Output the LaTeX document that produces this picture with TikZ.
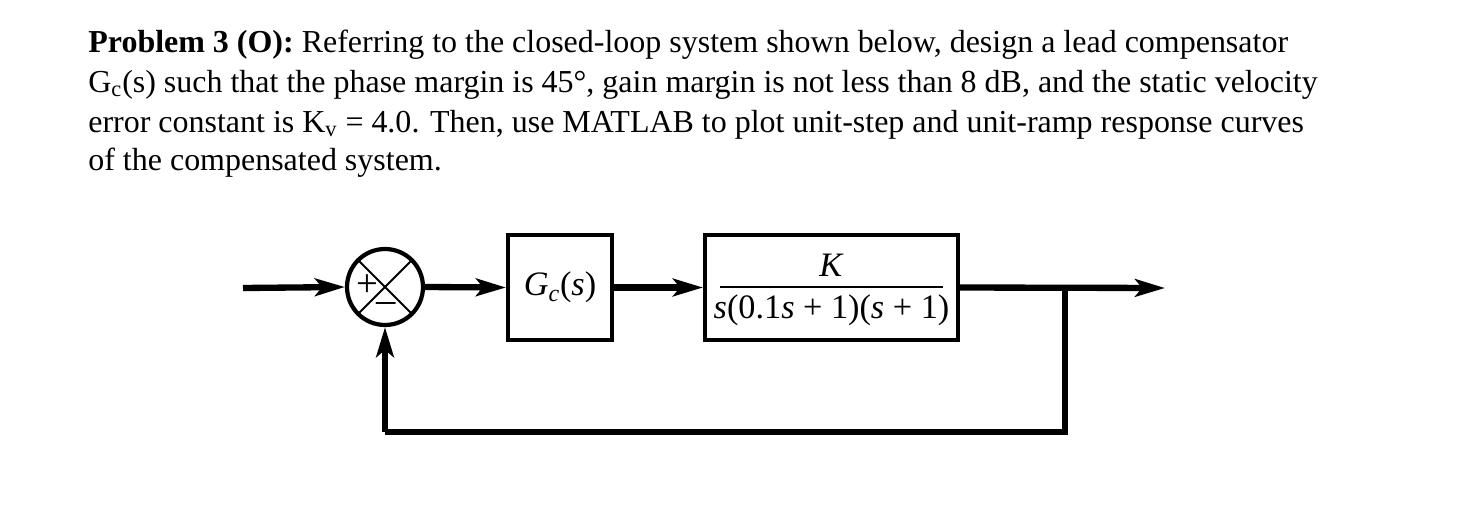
\documentclass[tikz,border=0pt]{standalone}
\usepackage{fontspec}
\setmainfont{Liberation Serif}
\usetikzlibrary{arrows.meta}
\begin{document}
\begin{tikzpicture}[x=0.02cm,y=-0.02cm,
  wire/.style={line width=3.6pt, -{Stealth[length=17pt,width=10pt,inset=4pt]}},
  fb/.style={line width=3.6pt},
  blk/.style={draw,line width=2.4pt,minimum width=2.08cm,minimum height=2.1cm,inner sep=0pt},
  txt/.style={anchor=base west,inner sep=0pt,font=\fontsize{18.2}{23}\selectfont}]
\useasboundingbox (0,0) rectangle (1460,524);
\node[txt] (l1) at (88,52) {\textbf{Problem 3 (O):} Referring to the closed-loop system shown below, design a lead compensator};
\node[txt] (l2) at (88,92) {G\textsubscript{c}(s) such that the phase margin is 45°, gain margin is not less than 8 dB, and the static velocity};
\node[txt] (l3) at (88,132) {error constant is K\textsubscript{v} = 4.0. Then, use MATLAB to plot unit-step and unit-ramp response curves};
\node[txt] (l4) at (88,170) {of the compensated system.};
\node[circle,draw,line width=2.4pt,minimum size=1.52cm,inner sep=0pt] (sum) at (385,287) {};
\draw[line width=1.1pt] (sum.north west) -- (sum.south east) (sum.north east) -- (sum.south west);
\node[font=\fontsize{22}{22}\selectfont] (plus) at (367,286) {+};
\node[font=\fontsize{22}{22}\selectfont] (minus) at (386,308) {–};
\node[blk] (gc) at (560,287.5) {\fontsize{19.5}{20}\selectfont\textit{G\textsubscript{c}}(\textit{s})};
\node[blk,minimum width=5.06cm] (gp) at (831.5,287.5) {};
\node[font=\fontsize{19.5}{20}\selectfont,inner sep=0pt,anchor=base] (num) at (831.5,276) {\textit{K}};
\node[font=\fontsize{19.5}{20}\selectfont,inner sep=0pt,anchor=base] (den) at (831.5,318) {\textit{s}(0.1\textit{s} + 1)(\textit{s} + 1)};
\draw[line width=0.8pt] (720,287) -- (943,287);
\coordinate (in) at (243,288);
\coordinate (out) at (1165,288);
\coordinate (br) at (1065,288);
\coordinate (bl) at (1065,432);
\coordinate (fl) at (385,432);
\draw[wire] (in) -- (sum.west);
\draw[wire] (sum.east) -- (gc.west);
\draw[wire] (gc.east) -- (gp.west);
\draw[wire] (gp.east) -- (out);
\draw[fb] (br) -- (bl) -- (fl);
\draw[wire] (fl) -- (sum.south);
\end{tikzpicture}
\end{document}
